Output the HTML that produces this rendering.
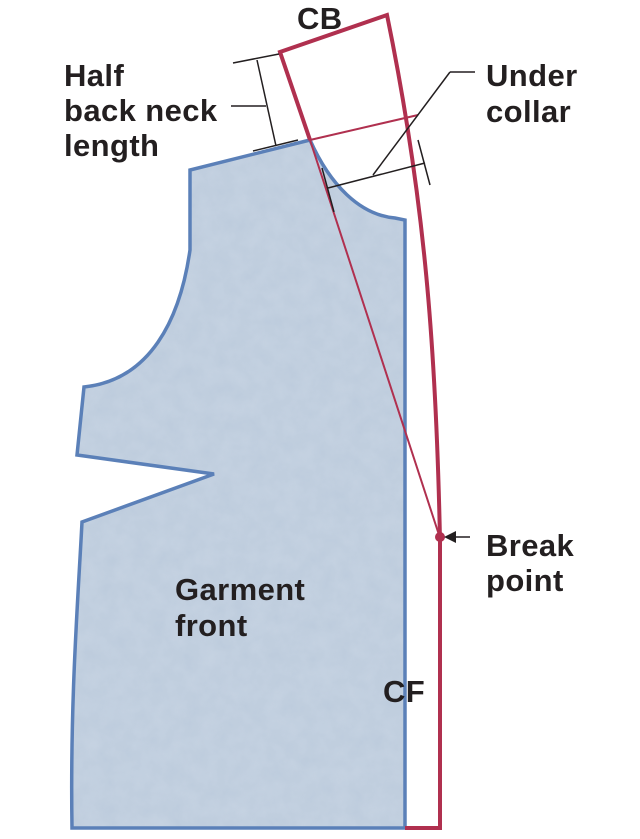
<!DOCTYPE html>
<html><head><meta charset="utf-8"><style>
html,body{margin:0;padding:0;background:#fff;}
svg{display:block;}
text{font-family:"Liberation Sans",sans-serif;font-weight:bold;font-size:31px;letter-spacing:0.4px;fill:#231f20;}
</style></head><body>
<svg width="640" height="839" viewBox="0 0 640 839">
<defs>
<filter id="n" x="0" y="0" width="100%" height="100%">
<feTurbulence type="fractalNoise" baseFrequency="0.06" numOctaves="3" seed="3"/>
<feColorMatrix type="matrix" values="0 0 0 0 0.65  0 0 0 0 0.72  0 0 0 0 0.82  0 0 0 0.9 0"/>
<feComposite in2="SourceGraphic" operator="in"/>
</filter>
</defs>
<path d="M310,140 L190,170 L190,250 C180,320 150,380 84,387 L77,455 L214,474 L82,522 C78,600 70,700 72,828 L405,828 L405,220 L395,218 C360,215 330,185 310,140 Z" fill="#bccbdc"/>
<path d="M310,140 L190,170 L190,250 C180,320 150,380 84,387 L77,455 L214,474 L82,522 C78,600 70,700 72,828 L405,828 L405,220 L395,218 C360,215 330,185 310,140 Z" fill="#fff" filter="url(#n)" opacity="0.5"/>
<path d="M310,140 L190,170 L190,250 C180,320 150,380 84,387 L77,455 L214,474 L82,522 C78,600 70,700 72,828 L405,828 L405,220 L395,218 C360,215 330,185 310,140 Z" fill="none" stroke="#5b80b8" stroke-width="3.5" stroke-linejoin="miter"/>
<path d="M405,828 L440,828 L440,540 C436,350 425,200 387,15 L280,52 L310,140" fill="none" stroke="#b0304f" stroke-width="4" stroke-linejoin="miter"/>
<line x1="310" y1="140" x2="418" y2="115" stroke="#b0304f" stroke-width="2"/>
<line x1="310" y1="140" x2="440" y2="538" stroke="#b0304f" stroke-width="2"/>
<circle cx="440" cy="537" r="5" fill="#b0304f"/>
<g stroke="#231f20" stroke-width="1.5" fill="none">
<line x1="233" y1="63" x2="279" y2="54"/>
<line x1="253" y1="151" x2="298" y2="140"/>
<line x1="257" y1="60" x2="276" y2="146"/>
<line x1="231" y1="106" x2="266" y2="106"/>
<line x1="322" y1="168" x2="334" y2="212"/>
<line x1="328" y1="188" x2="425" y2="163"/>
<line x1="418" y1="140" x2="430" y2="185"/>
<line x1="373" y1="175" x2="450" y2="72"/>
<line x1="450" y1="72" x2="475" y2="72"/>
<line x1="448" y1="537" x2="470" y2="537"/>
</g>
<path d="M444,537 L456,531 L456,543 Z" fill="#231f20"/>
<text x="297" y="29">CB</text>
<text x="64" y="86">Half</text>
<text x="64" y="121">back neck</text>
<text x="64" y="156">length</text>
<text x="486" y="86">Under</text>
<text x="486" y="122">collar</text>
<text x="486" y="556">Break</text>
<text x="486" y="591">point</text>
<text x="175" y="600">Garment</text>
<text x="175" y="636">front</text>
<text x="383" y="702">CF</text>
</svg>
</body></html>
